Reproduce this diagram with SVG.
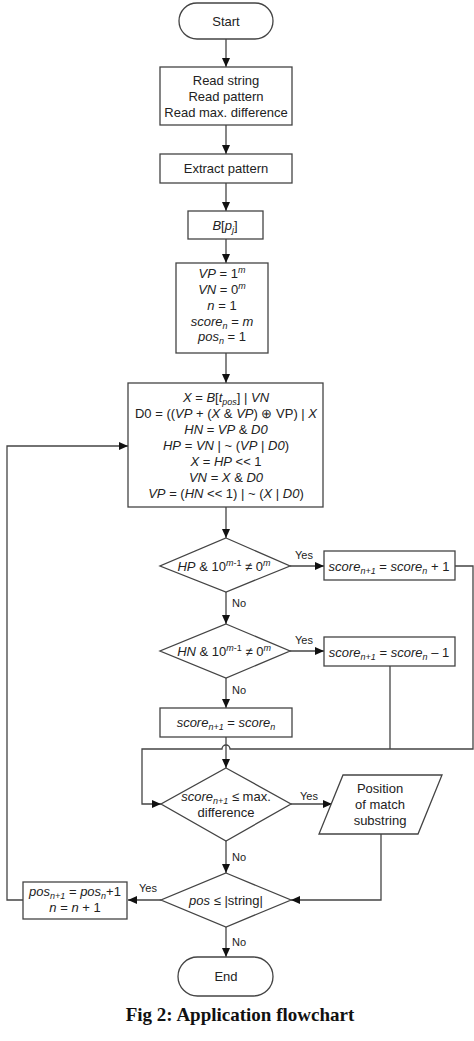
<svg xmlns="http://www.w3.org/2000/svg" width="474" height="1041" viewBox="0 0 474 1041">
<style>
.s{fill:#fff;stroke:#444;stroke-width:1.3}
.c{fill:none;stroke:#444;stroke-width:1.3}
text{font-family:"Liberation Sans",Arial,sans-serif;font-size:13px;fill:#222;text-anchor:middle}
.i{font-style:italic}
.lb{font-size:11px;text-anchor:start}
.sub{font-size:9px}
.cap{font-family:"Liberation Serif","Times New Roman",serif;font-weight:bold;font-size:19px;fill:#111}
</style>
<defs>
<marker id="a" markerWidth="10" markerHeight="8" refX="9" refY="4" orient="auto" markerUnits="userSpaceOnUse">
<path d="M0,0 L9,4 L0,8 Z" fill="#111"/>
</marker>
</defs>
<rect width="474" height="1041" fill="#fff"/>
<g id="connectors">
<line class="c" x1="226" y1="39" x2="226" y2="67" marker-end="url(#a)"/>
<line class="c" x1="226" y1="125" x2="226" y2="154" marker-end="url(#a)"/>
<line class="c" x1="226" y1="183" x2="226" y2="211" marker-end="url(#a)"/>
<line class="c" x1="226" y1="239" x2="226" y2="263" marker-end="url(#a)"/>
<line class="c" x1="226" y1="353" x2="226" y2="383" marker-end="url(#a)"/>
<line class="c" x1="226" y1="507" x2="226" y2="538" marker-end="url(#a)"/>
<line class="c" x1="226" y1="592" x2="226" y2="624" marker-end="url(#a)"/>
<line class="c" x1="226" y1="678" x2="226" y2="708" marker-end="url(#a)"/>
<line class="c" x1="226" y1="737" x2="226" y2="768" marker-end="url(#a)"/>
<line class="c" x1="226" y1="841" x2="226" y2="873" marker-end="url(#a)"/>
<line class="c" x1="226" y1="927" x2="226" y2="957" marker-end="url(#a)"/>
<line class="c" x1="290" y1="566" x2="324" y2="566" marker-end="url(#a)"/>
<line class="c" x1="290" y1="651" x2="324" y2="651" marker-end="url(#a)"/>
<path class="c" d="M455,566 H473 V749 H230 A4,4 0 0 0 222,749 H142 V804 H161" marker-end="url(#a)"/>
<path class="c" d="M390,666 V749"/>
<line class="c" x1="291" y1="804" x2="332" y2="804" marker-end="url(#a)"/>
<path class="c" d="M381,834 V900 H291" marker-end="url(#a)"/>
<line class="c" x1="161" y1="900" x2="128" y2="900" marker-end="url(#a)"/>
<path class="c" d="M23,900 H7 V446 H128" marker-end="url(#a)"/>
<text class="lb" x="295" y="559">Yes</text>
<text class="lb" x="295" y="644">Yes</text>
<text class="lb" x="300" y="800">Yes</text>
<text class="lb" x="139" y="892">Yes</text>
<text class="lb" x="232" y="607">No</text>
<text class="lb" x="232" y="694">No</text>
<text class="lb" x="232" y="861">No</text>
<text class="lb" x="232" y="946">No</text>
</g>
<g id="start">
<rect class="s" x="179" y="3" width="94" height="36" rx="18"/>
<text x="226" y="25.5">Start</text>
</g>
<g id="read">
<rect class="s" x="160" y="67" width="132" height="58"/>
<text x="226" y="84.5">Read string</text>
<text x="226" y="100.5">Read pattern</text>
<text x="226" y="116.5">Read max. difference</text>
</g>
<g id="extract">
<rect class="s" x="160" y="154" width="132" height="29"/>
<text x="226" y="173">Extract pattern</text>
</g>
<g id="bpj">
<rect class="s" x="188" y="211" width="75" height="28"/>
<text x="225" y="229.5"><tspan class="i">B</tspan>[<tspan class="i">p</tspan><tspan class="i sub" dy="3">j</tspan><tspan dy="-3">]</tspan></text>
</g>
<g id="init">
<rect class="s" x="176" y="263" width="92" height="90"/>
<text x="222" y="277.5"><tspan class="i">VP</tspan> = 1<tspan class="i sub" dy="-5">m</tspan></text>
<text x="222" y="293.5"><tspan class="i">VN</tspan> = 0<tspan class="i sub" dy="-5">m</tspan></text>
<text x="222" y="309.5"><tspan class="i">n</tspan> = 1</text>
<text x="222" y="325.5"><tspan class="i">score</tspan><tspan class="i sub" dy="3">n</tspan><tspan dy="-3"> = </tspan><tspan class="i">m</tspan></text>
<text x="222" y="340.5"><tspan class="i">pos</tspan><tspan class="i sub" dy="3">n</tspan><tspan dy="-3"> = 1</tspan></text>
</g>
<g id="compute">
<rect class="s" x="128" y="383" width="195" height="124"/>
<text x="226" y="401.5"><tspan class="i">X</tspan> = <tspan class="i">B</tspan>[<tspan class="i">t</tspan><tspan class="i sub" dy="3">pos</tspan><tspan dy="-3">] | </tspan><tspan class="i">VN</tspan></text>
<text x="226" y="418">D0 = ((<tspan class="i">VP</tspan> + (<tspan class="i">X</tspan> &amp; <tspan class="i">VP</tspan>) ⊕ VP) | <tspan class="i">X</tspan></text>
<text x="226" y="433.5"><tspan class="i">HN</tspan> = <tspan class="i">VP</tspan> &amp; <tspan class="i">D0</tspan></text>
<text x="226" y="449.5"><tspan class="i">HP</tspan> = <tspan class="i">VN</tspan> | ~ (<tspan class="i">VP</tspan> | <tspan class="i">D0</tspan>)</text>
<text x="226" y="465.5"><tspan class="i">X</tspan> = <tspan class="i">HP</tspan> &lt;&lt; 1</text>
<text x="226" y="481.5"><tspan class="i">VN</tspan> = <tspan class="i">X</tspan> &amp; <tspan class="i">D0</tspan></text>
<text x="226" y="497.5"><tspan class="i">VP</tspan> = (<tspan class="i">HN</tspan> &lt;&lt; 1) | ~ (<tspan class="i">X</tspan> | <tspan class="i">D0</tspan>)</text>
</g>
<g id="dec1">
<polygon class="s" points="226,538 290,566 226,592 160,566"/>
<text x="224" y="570.5"><tspan class="i">HP</tspan> &amp; 10<tspan class="sub" dy="-5"><tspan class="i">m</tspan>-1</tspan><tspan dy="5"> ≠ 0</tspan><tspan class="i sub" dy="-5">m</tspan></text>
</g>
<g id="inc">
<rect class="s" x="324" y="551" width="131" height="29"/>
<text x="389" y="570.5"><tspan class="i">score</tspan><tspan class="i sub" dy="3">n+1</tspan><tspan dy="-3"> = </tspan><tspan class="i">score</tspan><tspan class="i sub" dy="3">n</tspan><tspan dy="-3"> + 1</tspan></text>
</g>
<g id="dec2">
<polygon class="s" points="226,624 290,651 226,678 160,651"/>
<text x="224" y="655.5"><tspan class="i">HN</tspan> &amp; 10<tspan class="sub" dy="-5"><tspan class="i">m</tspan>-1</tspan><tspan dy="5"> ≠ 0</tspan><tspan class="i sub" dy="-5">m</tspan></text>
</g>
<g id="dec">
<rect class="s" x="324" y="637" width="131" height="29"/>
<text x="389" y="656.5"><tspan class="i">score</tspan><tspan class="i sub" dy="3">n+1</tspan><tspan dy="-3"> = </tspan><tspan class="i">score</tspan><tspan class="i sub" dy="3">n</tspan><tspan dy="-3"> – 1</tspan></text>
</g>
<g id="same">
<rect class="s" x="160" y="708" width="132" height="29"/>
<text x="226" y="727"><tspan class="i">score</tspan><tspan class="i sub" dy="3">n+1</tspan><tspan dy="-3"> = </tspan><tspan class="i">score</tspan><tspan class="i sub" dy="3">n</tspan></text>
</g>
<g id="dec3">
<polygon class="s" points="226,768 291,804 226,841 161,804"/>
<text x="226" y="801"><tspan class="i">score</tspan><tspan class="i sub" dy="3">n+1</tspan><tspan dy="-3"> ≤ max.</tspan></text>
<text x="226" y="816.5">difference</text>
</g>
<g id="output">
<polygon class="s" points="343,775 442,775 418,834 319,834"/>
<text x="380" y="792.5">Position</text>
<text x="380" y="808.5">of match</text>
<text x="380" y="824.5">substring</text>
</g>
<g id="dec4">
<polygon class="s" points="226,873 291,900 226,927 161,900"/>
<text x="226" y="904.5"><tspan class="i">pos</tspan> ≤ |string|</text>
</g>
<g id="next">
<rect class="s" x="23" y="882" width="104" height="37"/>
<text x="75" y="896"><tspan class="i">pos</tspan><tspan class="i sub" dy="3">n+1</tspan><tspan dy="-3"> = </tspan><tspan class="i">pos</tspan><tspan class="i sub" dy="3">n</tspan><tspan dy="-3">+1</tspan></text>
<text x="75" y="911.5"><tspan class="i">n</tspan> = <tspan class="i">n</tspan> + 1</text>
</g>
<g id="end">
<rect class="s" x="178" y="957" width="95" height="39" rx="19.5"/>
<text x="226" y="981">End</text>
</g>
<text class="cap" x="240" y="1021">Fig 2: Application flowchart</text>
</svg>
